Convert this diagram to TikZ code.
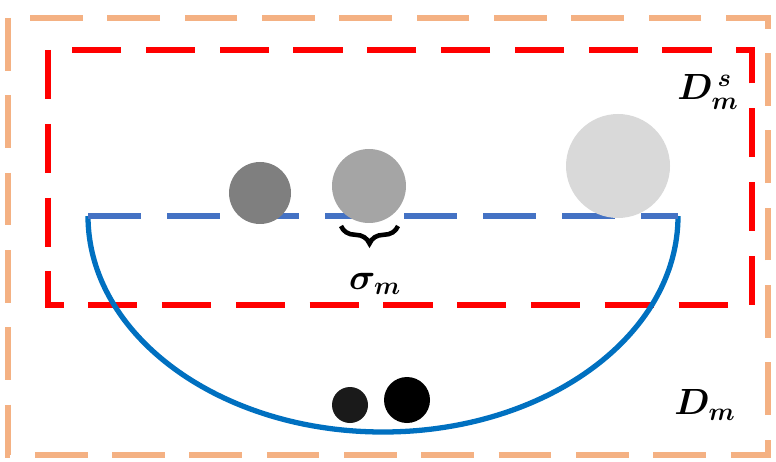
\documentclass[tikz,border=0pt]{standalone}
\usepackage{amsmath,bm}
\usetikzlibrary{decorations.pathreplacing}
\begin{document}
\begin{tikzpicture}[x=0.02cm,y=-0.02cm,
  outerbox/.style={draw={rgb,255:red,244;green,177;blue,131},line width=3.4pt,dash pattern=on 30pt off 14pt},
  innerbox/.style={draw=red,line width=3.4pt,dash pattern=on 28pt off 14pt},
  ball/.style={circle,inner sep=0pt},
  lbl/.style={font=\fontsize{20}{24}\selectfont}]
\useasboundingbox (0,0) rectangle (776,462);
\draw[outerbox] (8,18) rectangle (768,455);
\draw[innerbox] (48,50) rectangle (752,305);
\draw[draw={rgb,255:red,0;green,112;blue,192},line width=3pt] (88,216) arc[start angle=180,end angle=360,x radius=295,y radius=-216];
\draw[draw={rgb,255:red,68;green,114;blue,196},line width=3pt,dash pattern=on 30pt off 15pt] (88,216) -- (678,216);
\node[ball,fill={rgb,255:red,127;green,127;blue,127},minimum size=62*0.02cm] (c1) at (260,193) {};
\node[ball,fill={rgb,255:red,165;green,165;blue,165},minimum size=74*0.02cm] (c2) at (369,186) {};
\node[ball,fill={rgb,255:red,217;green,217;blue,217},minimum size=104*0.02cm] (c3) at (618,166) {};
\node[ball,fill={rgb,255:red,26;green,26;blue,26},minimum size=36*0.02cm] (b1) at (350,405) {};
\node[ball,fill=black,minimum size=46*0.02cm] (b2) at (407,400) {};
\coordinate (bl) at (341,226);
\coordinate (brr) at (398,226);
\draw[line width=2.6pt,decorate,decoration={brace,mirror,amplitude=10pt}] (bl) -- (brr);
\node[lbl] (s) at (375,284) {$\bm{\sigma_m}$};
\node[lbl] (ds) at (708,92) {$\bm{D_m^{\,s}}$};
\node[lbl] (d) at (705,405) {$\bm{D_m}$};
\end{tikzpicture}
\end{document}
